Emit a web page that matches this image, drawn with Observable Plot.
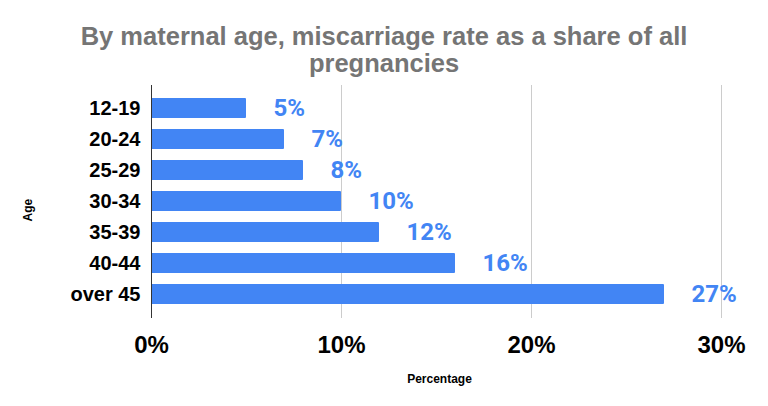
<!DOCTYPE html>
<html>
<head>
<meta charset="utf-8">
<script src="https://cdn.jsdelivr.net/npm/d3@7"></script>
<script src="https://cdn.jsdelivr.net/npm/@observablehq/plot@0.6"></script>
<style>
  html, body { margin: 0; padding: 0; background: #fff; }
  #title { width: 768px; height: 80px; box-sizing: border-box; padding-top: 23px; text-align: center;
    font-family: "Liberation Sans", Arial, sans-serif; font-weight: bold; font-size: 25.5px; line-height: 27px; color: #757575; }
  #chart svg { display: block; }
</style>
</head>
<body>
<div id="title">By maternal age, miscarriage rate as a share of all<br>pregnancies</div>
<div id="chart"></div>
<script>
const ages = ["12-19", "20-24", "25-29", "30-34", "35-39", "40-44", "over 45"];
const rates = [5, 7, 8, 10, 12, 16, 27];
const xTicks = [0, 10, 20, 30];
const data = ages.map((a, i) => ({ age: a, rate: rates[i] }));
const blue = "#4285F4";

const chart = Plot.plot({
  width: 768,
  height: 326,
  marginLeft: 151,
  marginRight: 47,
  marginTop: 10,
  marginBottom: 94,
  style: { fontFamily: "'Liberation Sans', Arial, sans-serif", background: "#fff" },
  x: { domain: [0, 30] },
  y: { domain: ages, paddingInner: 0.37, paddingOuter: 0.185 },
  marks: [
    Plot.gridX(xTicks, { stroke: "#cccccc", strokeOpacity: 1, insetTop: -5, insetBottom: -6 }),
    Plot.barX(data, { y: "age", x: "rate", fill: blue, rx: 1 }),
    Plot.ruleX([0], { stroke: "#333", insetTop: -5, insetBottom: -6 }),
    Plot.text(data, { y: "age", x: "rate", text: d => d.rate + "%", dx: 27, textAnchor: "start",
      fill: blue, fontSize: 24, fontWeight: "bold", fontFamily: "Roboto, 'Liberation Sans', sans-serif" }),
    Plot.axisY({ tickSize: 0, tickPadding: 11, fontSize: 20, fontWeight: "bold", label: null, color: "#000" }),
    Plot.axisX(xTicks, { tickSize: 0, tickPadding: 23, fontSize: 24, fontWeight: "bold", label: null,
      tickFormat: d => d + "%", color: "#000" }),
    Plot.text(["Percentage"], { frameAnchor: "bottom", dx: 3, dy: 70, fontSize: 12, fontWeight: "bold", fill: "#000" }),
    Plot.text(["Age"], { frameAnchor: "left", dx: -123, dy: 20, rotate: -90, fontSize: 12, fontWeight: "bold", fill: "#000" })
  ]
});
document.getElementById("chart").appendChild(chart);
</script>
</body>
</html>
